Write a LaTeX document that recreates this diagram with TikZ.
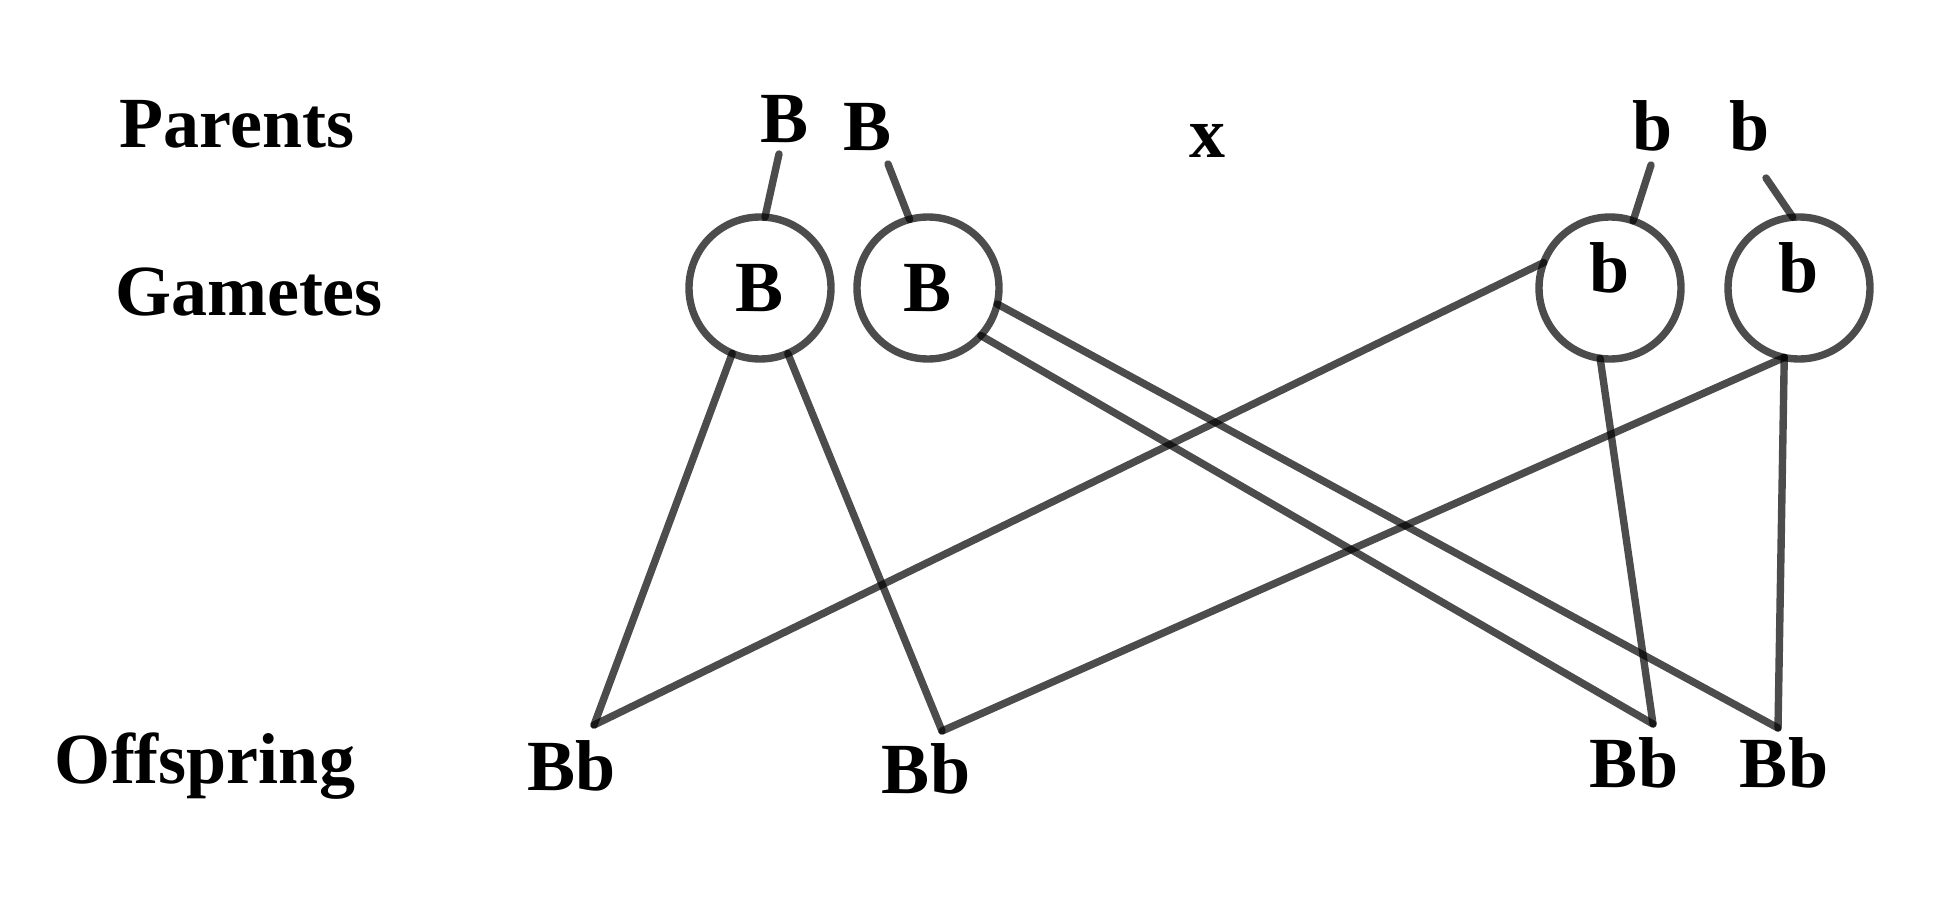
\documentclass[tikz,border=0pt]{standalone}
\usepackage{fontspec}
\setmainfont{Liberation Serif}
\tikzset{
  allele/.style={
    anchor=base, inner sep=0pt,
    font=\fontsize{36}{43}\selectfont\bfseries
  },
  gamete/.style={
    circle, draw=black, draw opacity=0.7, line width=3.7pt,
    minimum size=71pt, inner sep=0pt, outer sep=0pt,
    font=\fontsize{36}{43}\selectfont\bfseries
  },
  raised/.style={
    text height=0.47em, text depth=0pt
  },
  link/.style={
    draw=black, draw opacity=0.7, line width=3.7pt, line cap=round
  }
}
\begin{document}
\begin{tikzpicture}[x=0.5pt, y=-0.5pt]
  \useasboundingbox (0,0) rectangle (1950,915);
  % row labels
  \node[allele] (parents) at (237,148) {Parents};
  \node[allele] (gametes) at (249,315) {Gametes};
  \node[allele] (offspring) at (205,783) {Offspring};
  % parents
  \node[allele] (pB1) at (785,143) {B};
  \node[allele] (pB2) at (868,151) {B};
  \node[allele] (cross) at (1207,158) {x};
  \node[allele] (pb3) at (1653,150) {b};
  \node[allele] (pb4) at (1750,150) {b};
  % gametes
  \node[gamete] (gB1) at (760,288) {B};
  \node[gamete] (gB2) at (928,288) {B};
  \node[gamete, raised] (gb3) at (1610,288) {b};
  \node[gamete, raised] (gb4) at (1799,288) {b};
  % offspring
  \node[allele] (oB1) at (572,790) {Bb};
  \node[allele] (oB2) at (926,793) {Bb};
  \node[allele] (ob3) at (1634,787) {Bb};
  \node[allele] (ob4) at (1784,787) {Bb};
  \coordinate (tB1) at (779,154);
  \coordinate (tB2) at (888,164);
  \coordinate (tb3) at (1651,165);
  \coordinate (tb4) at (1766,178);
  \coordinate (j1) at (594,725);
  \coordinate (j2) at (942,731);
  \coordinate (j3) at (1653,724);
  \coordinate (j4) at (1778,728);
  % parents to gametes
  \draw[link] (tB1) -- (gB1.86);
  \draw[link] (tB2) -- (gB2.105);
  \draw[link] (tb3) -- (gb3.71);
  \draw[link] (tb4) -- (gb4.95);
  % gametes to offspring
  \draw[link] (gB1.247) -- (j1);
  \draw[link] (gB1.293) -- (j2);
  \draw[link] (gB2.318) -- (j3);
  \draw[link] (gB2.347) -- (j4);
  \draw[link] (gb3.159) -- (j1);
  \draw[link] (gb3.262) -- (j3);
  \draw[link] (gb4.258) -- (j2);
  \draw[link] (gb4.258) -- (j4);
\end{tikzpicture}
\end{document}
